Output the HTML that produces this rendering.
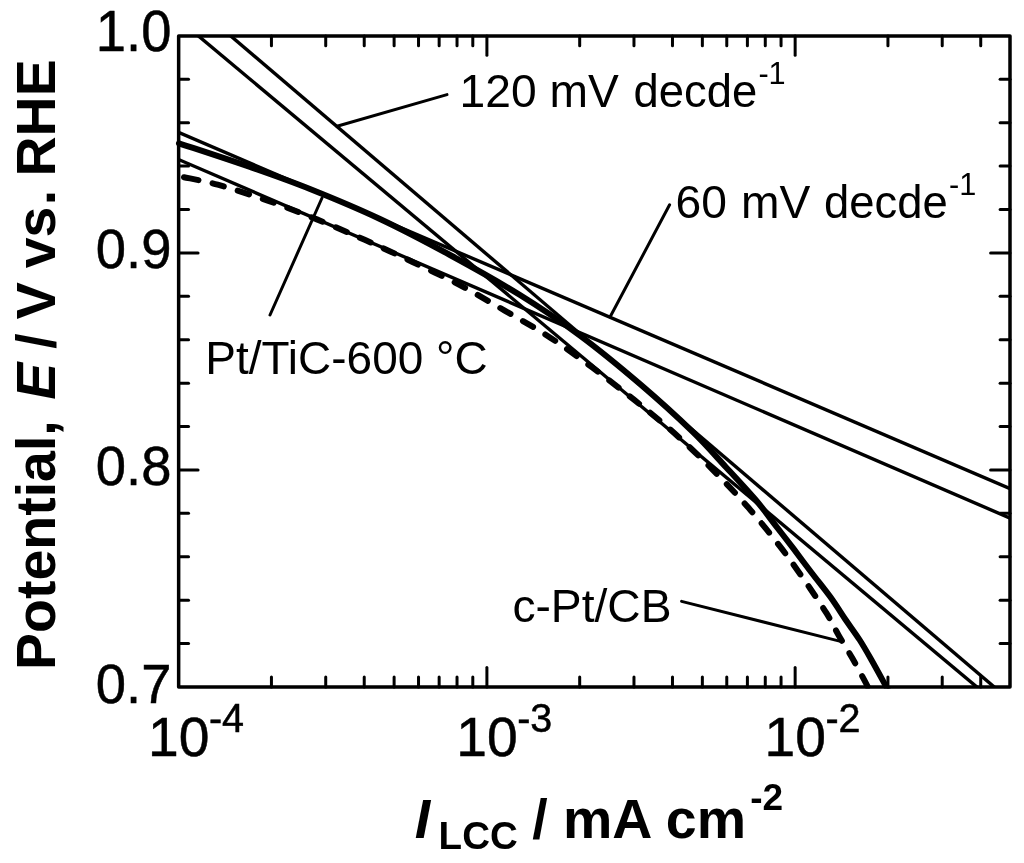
<!DOCTYPE html>
<html lang="en"><head><meta charset="utf-8"><title>Tafel plot</title>
<style>html,body{margin:0;padding:0;background:#fff;}svg{display:block;}text{font-family:"Liberation Sans",sans-serif;fill:#000;}</style></head><body>
<svg width="1024" height="863" viewBox="0 0 1024 863">
<rect width="1024" height="863" fill="#fff"/>
<g stroke="#000" stroke-width="3.0" stroke-linecap="round" fill="none">
<line x1="271.44" y1="35.9" x2="271.44" y2="45.80"/>
<line x1="271.44" y1="687.0" x2="271.44" y2="677.10"/>
<line x1="325.72" y1="35.9" x2="325.72" y2="45.80"/>
<line x1="325.72" y1="687.0" x2="325.72" y2="677.10"/>
<line x1="364.23" y1="35.9" x2="364.23" y2="45.80"/>
<line x1="364.23" y1="687.0" x2="364.23" y2="677.10"/>
<line x1="394.11" y1="35.9" x2="394.11" y2="45.80"/>
<line x1="394.11" y1="687.0" x2="394.11" y2="677.10"/>
<line x1="418.52" y1="35.9" x2="418.52" y2="45.80"/>
<line x1="418.52" y1="687.0" x2="418.52" y2="677.10"/>
<line x1="439.15" y1="35.9" x2="439.15" y2="45.80"/>
<line x1="439.15" y1="687.0" x2="439.15" y2="677.10"/>
<line x1="457.03" y1="35.9" x2="457.03" y2="45.80"/>
<line x1="457.03" y1="687.0" x2="457.03" y2="677.10"/>
<line x1="472.80" y1="35.9" x2="472.80" y2="45.80"/>
<line x1="472.80" y1="687.0" x2="472.80" y2="677.10"/>
<line x1="486.90" y1="35.9" x2="486.90" y2="55.30"/>
<line x1="486.90" y1="687.0" x2="486.90" y2="667.60"/>
<line x1="579.69" y1="35.9" x2="579.69" y2="45.80"/>
<line x1="579.69" y1="687.0" x2="579.69" y2="677.10"/>
<line x1="633.97" y1="35.9" x2="633.97" y2="45.80"/>
<line x1="633.97" y1="687.0" x2="633.97" y2="677.10"/>
<line x1="672.48" y1="35.9" x2="672.48" y2="45.80"/>
<line x1="672.48" y1="687.0" x2="672.48" y2="677.10"/>
<line x1="702.36" y1="35.9" x2="702.36" y2="45.80"/>
<line x1="702.36" y1="687.0" x2="702.36" y2="677.10"/>
<line x1="726.77" y1="35.9" x2="726.77" y2="45.80"/>
<line x1="726.77" y1="687.0" x2="726.77" y2="677.10"/>
<line x1="747.40" y1="35.9" x2="747.40" y2="45.80"/>
<line x1="747.40" y1="687.0" x2="747.40" y2="677.10"/>
<line x1="765.28" y1="35.9" x2="765.28" y2="45.80"/>
<line x1="765.28" y1="687.0" x2="765.28" y2="677.10"/>
<line x1="781.05" y1="35.9" x2="781.05" y2="45.80"/>
<line x1="781.05" y1="687.0" x2="781.05" y2="677.10"/>
<line x1="795.15" y1="35.9" x2="795.15" y2="55.30"/>
<line x1="795.15" y1="687.0" x2="795.15" y2="667.60"/>
<line x1="887.94" y1="35.9" x2="887.94" y2="45.80"/>
<line x1="887.94" y1="687.0" x2="887.94" y2="677.10"/>
<line x1="942.22" y1="35.9" x2="942.22" y2="45.80"/>
<line x1="942.22" y1="687.0" x2="942.22" y2="677.10"/>
<line x1="980.73" y1="35.9" x2="980.73" y2="45.80"/>
<line x1="980.73" y1="687.0" x2="980.73" y2="677.10"/>
<line x1="178.65" y1="79.31" x2="188.55" y2="79.31"/>
<line x1="1010.0" y1="79.31" x2="1000.10" y2="79.31"/>
<line x1="178.65" y1="122.71" x2="188.55" y2="122.71"/>
<line x1="1010.0" y1="122.71" x2="1000.10" y2="122.71"/>
<line x1="178.65" y1="166.12" x2="188.55" y2="166.12"/>
<line x1="1010.0" y1="166.12" x2="1000.10" y2="166.12"/>
<line x1="178.65" y1="209.53" x2="188.55" y2="209.53"/>
<line x1="1010.0" y1="209.53" x2="1000.10" y2="209.53"/>
<line x1="178.65" y1="252.93" x2="198.05" y2="252.93"/>
<line x1="1010.0" y1="252.93" x2="990.60" y2="252.93"/>
<line x1="178.65" y1="296.34" x2="188.55" y2="296.34"/>
<line x1="1010.0" y1="296.34" x2="1000.10" y2="296.34"/>
<line x1="178.65" y1="339.75" x2="188.55" y2="339.75"/>
<line x1="1010.0" y1="339.75" x2="1000.10" y2="339.75"/>
<line x1="178.65" y1="383.15" x2="188.55" y2="383.15"/>
<line x1="1010.0" y1="383.15" x2="1000.10" y2="383.15"/>
<line x1="178.65" y1="426.56" x2="188.55" y2="426.56"/>
<line x1="1010.0" y1="426.56" x2="1000.10" y2="426.56"/>
<line x1="178.65" y1="469.97" x2="198.05" y2="469.97"/>
<line x1="1010.0" y1="469.97" x2="990.60" y2="469.97"/>
<line x1="178.65" y1="513.37" x2="188.55" y2="513.37"/>
<line x1="1010.0" y1="513.37" x2="1000.10" y2="513.37"/>
<line x1="178.65" y1="556.78" x2="188.55" y2="556.78"/>
<line x1="1010.0" y1="556.78" x2="1000.10" y2="556.78"/>
<line x1="178.65" y1="600.19" x2="188.55" y2="600.19"/>
<line x1="1010.0" y1="600.19" x2="1000.10" y2="600.19"/>
<line x1="178.65" y1="643.59" x2="188.55" y2="643.59"/>
<line x1="1010.0" y1="643.59" x2="1000.10" y2="643.59"/>
</g>
<defs><clipPath id="c"><rect x="178.65" y="35.9" width="831.35" height="651.1"/></clipPath><clipPath id="c2"><rect x="172.65" y="35.9" width="837.35" height="652.6"/></clipPath></defs>
<g clip-path="url(#c)" fill="none" stroke="#000">
<line x1="168.65" y1="11.06" x2="1020.00" y2="723.07" stroke-width="3.4"/>
<line x1="168.65" y1="-16.99" x2="1020.00" y2="708.96" stroke-width="3.4"/>
<line x1="168.65" y1="128.17" x2="1020.00" y2="492.88" stroke-width="3.4"/>
<line x1="168.65" y1="155.23" x2="1020.00" y2="522.41" stroke-width="3.4"/>
</g><g clip-path="url(#c2)" fill="none" stroke="#000">
<path d="M179.00,143.30 C190.83,147.25 228.17,159.38 250.00,167.00 C271.83,174.62 288.33,180.33 310.00,189.00 C331.67,197.67 356.67,208.00 380.00,219.00 C403.33,230.00 426.67,242.33 450.00,255.00 C473.33,267.67 498.33,281.57 520.00,295.00 C541.67,308.43 560.00,320.77 580.00,335.60 C600.00,350.43 621.25,368.00 640.00,384.00 C658.75,400.00 678.17,417.73 692.50,431.60 C706.83,445.47 715.45,455.80 726.00,467.20 C736.55,478.60 747.68,490.48 755.80,500.00 C763.92,509.52 768.42,516.18 774.70,524.30 C780.98,532.42 787.32,540.58 793.50,548.70 C799.68,556.82 805.62,564.90 811.80,573.00 C817.98,581.10 824.93,589.47 830.60,597.30 C836.27,605.13 840.95,612.88 845.80,620.00 C850.65,627.12 855.42,633.33 859.70,640.00 C863.98,646.67 866.87,651.83 871.50,660.00 C876.13,668.17 884.83,684.17 887.50,689.00" stroke-width="6.0" stroke-linecap="round" stroke-linejoin="round"/>
<path d="M184.00,177.20 C189.62,178.45 203.75,180.80 217.70,184.70 C231.65,188.60 251.17,194.82 267.70,200.60 C284.23,206.38 300.73,212.87 316.90,219.40 C333.07,225.93 348.85,232.75 364.70,239.80 C380.55,246.85 396.22,254.20 412.00,261.70 C427.78,269.20 443.95,276.65 459.40,284.80 C474.85,292.95 489.87,302.00 504.70,310.60 C519.53,319.20 533.77,326.88 548.40,336.40 C563.03,345.92 578.23,357.15 592.50,367.70 C606.77,378.25 620.33,388.77 634.00,399.70 C647.67,410.63 661.37,421.62 674.50,433.30 C687.63,444.98 700.42,457.33 712.80,469.80 C725.17,482.27 737.55,495.33 748.75,508.10 C759.95,520.87 770.62,534.25 780.00,546.40 C789.38,558.55 797.25,569.87 805.00,581.00 C812.75,592.13 820.90,604.17 826.50,613.20 C832.10,622.23 834.28,627.68 838.60,635.20 C842.92,642.72 848.00,650.60 852.40,658.30 C856.80,666.00 862.27,676.28 865.00,681.40 C867.73,686.52 868.17,687.73 868.80,689.00" stroke-width="6.0" stroke-linecap="round" stroke-linejoin="round" stroke-dasharray="14.8 14.5 11.8 14.38 11.8 14.38 11.8 14.38 11.8 14.38 11.8 14.38 11.8 14.38 11.8 14.38 11.8 14.38 11.8 14.38 11.8 14.38 11.8 14.38 11.8 14.38 11.8 14.38 11.8 14.38 11.8 14.38 11.8 14.38 11.8 14.38 11.8 14.38 11.8 14.38 11.8 14.38 11.8 14.38 11.8 14.38 11.8 14.38 11.8 14.38 11.8 14.38 11.8 14.38 11.8 14.38 11.8 14.38 11.8 14.38 11.8 14.38 11.8 14.38 11.8 14.38 11.8 14.38 11.8 14.38 11.8 14.38 11.8 14.38 11.8 14.38 11.8 14.38 11.8 14.38 11.8 14.38 11.8 14.38 11.8 14.38 11.8 14.38 11.8 14.38 11.8 14.38 11.8 14.38 11.8 14.38 11.8 14.38 11.8 14.38 11.8 14.38"/>
</g>
<g stroke="#000" stroke-width="3.0" stroke-linecap="round" fill="none">
<line x1="337" y1="126.3" x2="447" y2="94.6"/>
<line x1="610.2" y1="316.8" x2="669.6" y2="204.8"/>
<line x1="270" y1="315" x2="322" y2="198"/>
<line x1="681.6" y1="601.4" x2="841.5" y2="641.6"/>
</g>
<rect x="178.65" y="35.9" width="831.35" height="651.1" fill="none" stroke="#000" stroke-width="3.5" stroke-linejoin="round"/>
<text transform="translate(171.4 51.40) scale(0.985 1.045)" font-size="55.2" text-anchor="end" stroke="#000" stroke-width="0.5">1.0</text>
<text transform="translate(171.4 268.43) scale(0.985 1.02)" font-size="55.2" text-anchor="end" stroke="#000" stroke-width="0.5">0.9</text>
<text transform="translate(171.4 485.47) scale(0.985 1.02)" font-size="55.2" text-anchor="end" stroke="#000" stroke-width="0.5">0.8</text>
<text transform="translate(171.4 702.50) scale(0.985 1.02)" font-size="55.2" text-anchor="end" stroke="#000" stroke-width="0.5">0.7</text>
<text transform="translate(147.96 756) scale(1 1.02)" font-size="55.2" stroke="#000" stroke-width="0.5">10<tspan font-size="39.5" dy="-23.73" dx="-0.4">-4</tspan></text>
<text transform="translate(456.21 756) scale(1 1.02)" font-size="55.2" stroke="#000" stroke-width="0.5">10<tspan font-size="39.5" dy="-23.73" dx="-0.4">-3</tspan></text>
<text transform="translate(764.46 756) scale(1 1.02)" font-size="55.2" stroke="#000" stroke-width="0.5">10<tspan font-size="39.5" dy="-23.73" dx="-0.4">-2</tspan></text>
<text transform="translate(459.6 107.3) scale(1 1.0)" font-size="46.2">120 mV <tspan font-size="45.4" dx="1.9">decde</tspan><tspan font-size="30.7" dy="-22.90" dx="1.2">-1</tspan></text>
<text transform="translate(675.5 217.8) scale(1 1.0)" font-size="46.2">60 <tspan dx="1.3">mV</tspan> <tspan font-size="45.4" dx="0.95">decde</tspan><tspan font-size="30.7" dy="-22.90" dx="1.2">-1</tspan></text>
<text transform="translate(205.3 373.8) scale(0.995 1.0)" font-size="46.2">Pt/TiC-600 °C</text>
<text transform="translate(512.4 621.5) scale(1 1.0)" font-size="46.2">c-Pt/CB</text>
<text transform="translate(414.8 838.2) scale(1 1.0)" font-size="55.5" font-weight="bold"><tspan font-style="italic">I</tspan><tspan font-size="38.5" dy="10.60" dx="8.4">LCC</tspan><tspan dy="-10.60" dx="-1"> / mA cm</tspan><tspan font-size="37" dy="-28.00" dx="4.2">-2</tspan></text>
<text transform="translate(55 670) rotate(-90) scale(1 1.0)" font-size="55.5" font-weight="bold">Potential, <tspan font-style="italic" dx="5">E</tspan> <tspan dx="-1.4">/</tspan> <tspan dx="-1.3">V</tspan> <tspan dx="-1.6">vs</tspan><tspan dx="1.3">.</tspan> <tspan dx="-2">RHE</tspan></text>
</svg></body></html>
